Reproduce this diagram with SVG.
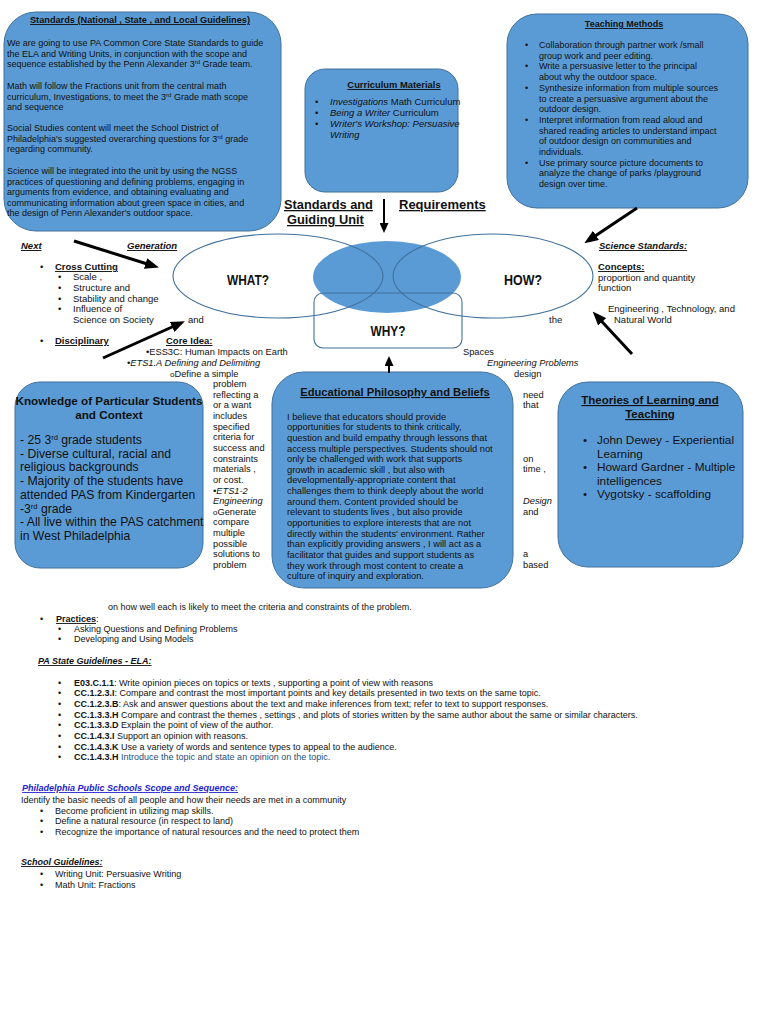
<svg xmlns="http://www.w3.org/2000/svg" width="768" height="1024" viewBox="0 0 768 1024">
<defs>
<style>
text{font-family:"Liberation Sans",Arial,sans-serif;fill:#111;font-size:9px}
.box{fill:#5b9bd5;stroke:#41719c;stroke-width:1}
.ring{fill:none;stroke:#41719c;stroke-width:1.1}
.b{font-weight:bold}
.i{font-style:italic}
.u{text-decoration:underline}
.m{text-anchor:middle}
.ln{stroke:#000;stroke-width:3;fill:none;marker-end:url(#ah)}
.lns{stroke:#000;stroke-width:2;fill:none;marker-end:url(#ahs)}
.s95{font-size:9.5px}
.s93{font-size:9.3px}
.blue{fill:#1f4e79}
.link{fill:#2323d0}
.ring-b{font-size:8px;font-style:normal}
</style>
<marker id="ah" markerUnits="userSpaceOnUse" markerWidth="14" markerHeight="11" refX="6" refY="5.5" orient="auto"><path d="M0,0 L14,5.5 L0,11 z" fill="#000"/></marker>
<marker id="ahs" markerUnits="userSpaceOnUse" markerWidth="10" markerHeight="9" refX="4.5" refY="4.5" orient="auto"><path d="M0,0 L10,4.5 L0,9 z" fill="#000"/></marker>
</defs>
<rect width="768" height="1024" fill="#fff"/>

<g id="standards">
<rect class="box" x="4" y="12" width="277" height="219" rx="32"/>
<text x="140" y="23" class="b u m" style="font-size:9.2px">Standards (National , State , and Local Guidelines)</text>
<text x="7" y="46">We are going to use PA Common Core State Standards to guide</text>
<text x="7" y="56.6">the ELA and Writing Units, in conjunction with the scope and</text>
<text x="7" y="67.2">sequence established by the Penn Alexander 3<tspan dy="-3" style="font-size:6px">rd</tspan><tspan dy="3"> Grade team.</tspan></text>
<text x="7" y="89">Math will follow the Fractions unit from the central math</text>
<text x="7" y="99.6">curriculum, Investigations, to meet the 3<tspan dy="-3" style="font-size:6px">rd</tspan><tspan dy="3"> Grade math scope</tspan></text>
<text x="7" y="110.2">and sequence</text>
<text x="7" y="131">Social Studies content will meet the School District of</text>
<text x="7" y="141.6">Philadelphia's suggested overarching questions for 3<tspan dy="-3" style="font-size:6px">rd</tspan><tspan dy="3"> grade</tspan></text>
<text x="7" y="152.2">regarding community.</text>
<text x="7" y="174">Science will be integrated into the unit by using the NGSS</text>
<text x="7" y="184.6">practices of questioning and defining problems, engaging in</text>
<text x="7" y="195.2">arguments from evidence, and obtaining evaluating and</text>
<text x="7" y="205.8">communicating information about green space in cities, and</text>
<text x="7" y="216.4">the design of Penn Alexander's outdoor space.</text>
</g>

<g id="curriculum">
<rect class="box" x="305" y="69" width="153" height="123" rx="20"/>
<text x="394" y="88" class="b u m" style="font-size:9.4px">Curriculum Materials</text>
<text x="315" y="105" class="s95">•</text><text x="330" y="105" class="s95"><tspan class="i">Investigations</tspan> Math Curriculum</text>
<text x="315" y="116" class="s95">•</text><text x="330" y="116" class="s95 i">Being a Writer <tspan style="font-style:normal">Curriculum</tspan></text>
<text x="315" y="127" class="s95">•</text><text x="330" y="127" class="s95 i">Writer's Workshop: Persuasive</text>
<text x="330" y="138" class="s95 i">Writing</text>
</g>

<g id="teaching">
<rect class="box" x="507" y="14" width="241" height="194" rx="30"/>
<text x="624" y="27" class="b u m">Teaching Methods</text>
<text x="525" y="48">•</text><text x="539" y="48">Collaboration through partner work /small</text>
<text x="539" y="58.7">group work and peer editing.</text>
<text x="525" y="69.4">•</text><text x="539" y="69.4">Write a persuasive letter to the principal</text>
<text x="539" y="80.1">about why the outdoor space.</text>
<text x="525" y="90.8">•</text><text x="539" y="90.8">Synthesize information from multiple sources</text>
<text x="539" y="101.5">to create a persuasive argument about the</text>
<text x="539" y="112.2">outdoor design.</text>
<text x="525" y="122.9">•</text><text x="539" y="122.9">Interpret information from read aloud and</text>
<text x="539" y="133.6">shared reading articles to understand impact</text>
<text x="539" y="144.3">of outdoor design on communities and</text>
<text x="539" y="155">individuals.</text>
<text x="525" y="165.7">•</text><text x="539" y="165.7">Use primary source picture documents to</text>
<text x="539" y="176.4">analyze the change of parks /playground</text>
<text x="539" y="187.1">design over time.</text>
</g>

<g id="center-title">
<text x="284" y="209" class="b u" style="font-size:12.8px">Standards and</text>
<text x="287" y="224" class="b u" style="font-size:12.8px">Guiding Unit</text>
<text x="399" y="209" class="b u" style="font-size:13px">Requirements</text>
</g>

<g id="venn">
<ellipse cx="387" cy="277" rx="74" ry="36" fill="#5b9bd5"/>
<ellipse class="ring" cx="278" cy="276" rx="105" ry="42"/>
<ellipse class="ring" cx="493" cy="276" rx="100" ry="42"/>
<rect class="ring" x="314" y="293" width="148" height="55" rx="9"/>
<text x="248" y="285" class="b m" style="font-size:14px" textLength="42" lengthAdjust="spacingAndGlyphs">WHAT?</text>
<text x="523" y="285" class="b m" style="font-size:14px" textLength="38" lengthAdjust="spacingAndGlyphs">HOW?</text>
<text x="388" y="336" class="b m" style="font-size:14px" textLength="35" lengthAdjust="spacingAndGlyphs">WHY?</text>
</g>

<g id="science-left">
<text x="21" y="249" class="b i u s95">Next</text>
<text x="127" y="249" class="b i u s95">Generation</text>
<text x="40" y="270" class="s95">•</text><text x="55" y="270" class="b u s95">Cross Cutting</text>
<text x="58" y="280" class="s95">•</text><text x="73" y="280" class="s95">Scale ,</text>
<text x="58" y="291" class="s95">•</text><text x="73" y="291" class="s95">Structure and</text>
<text x="58" y="302" class="s95">•</text><text x="73" y="302" class="s95">Stability and change</text>
<text x="58" y="312" class="s95">•</text><text x="73" y="312" class="s95">Influence of</text>
<text x="73" y="323" class="s95">Science on Society</text>
<text x="188" y="323" class="s95">and</text>
<text x="40" y="344" class="s95">•</text><text x="55" y="344" class="b u s95">Disciplinary</text>
<text x="166" y="344" class="b u s95">Core Idea:</text>
<text x="146" y="355" class="s93">•ESS3C: Human Impacts on Earth</text>
<text x="127" y="366" class="s93 i">•ETS1.A Defining and Delimiting</text>
<text x="170" y="377" class="s93"><tspan class="ring-b">o</tspan>Define a simple</text>
<text x="213" y="387" class="s93">problem</text>
<text x="213" y="397.6" class="s93">reflecting a</text>
<text x="213" y="408.3" class="s93">or a want</text>
<text x="213" y="418.9" class="s93">includes</text>
<text x="213" y="429.6" class="s93">specified</text>
<text x="213" y="440.2" class="s93">criteria for</text>
<text x="213" y="450.9" class="s93">success and</text>
<text x="213" y="461.5" class="s93">constraints</text>
<text x="213" y="472.2" class="s93">materials ,</text>
<text x="213" y="482.8" class="s93">or cost.</text>
<text x="213" y="493.5" class="s93 i">•ETS1-2</text>
<text x="213" y="504.1" class="s93 i">Engineering</text>
<text x="213" y="514.8" class="s93"><tspan class="ring-b">o</tspan>Generate</text>
<text x="213" y="525.4" class="s93">compare</text>
<text x="213" y="536.1" class="s93">multiple</text>
<text x="213" y="546.7" class="s93">possible</text>
<text x="213" y="557.4" class="s93">solutions to</text>
<text x="213" y="568" class="s93">problem</text>
</g>

<g id="science-right">
<text x="599" y="249" class="b i u s95">Science Standards:</text>
<text x="598" y="270" class="b u s95">Concepts:</text>
<text x="598" y="281" class="s95">proportion and quantity</text>
<text x="598" y="291" class="s95">function</text>
<text x="608" y="312" class="s95">Engineering , Technology, and</text>
<text x="614" y="323" class="s95">Natural World</text>
<text x="549" y="323" class="s95">the</text>
<text x="463" y="355" class="s93">Spaces</text>
<text x="487" y="366" class="s93 i">Engineering Problems</text>
<text x="514" y="377" class="s93">design</text>
<text x="523" y="397.6" class="s93">need</text>
<text x="523" y="408.3" class="s93">that</text>
<text x="523" y="461.5" class="s93">on</text>
<text x="523" y="472.2" class="s93">time ,</text>
<text x="523" y="504.1" class="s93 i">Design</text>
<text x="523" y="514.8" class="s93">and</text>
<text x="523" y="557.4" class="s93">a</text>
<text x="523" y="568" class="s93">based</text>
</g>

<g id="knowledge">
<rect class="box" x="15" y="382" width="188" height="186" rx="25"/>
<text x="109" y="405" class="b m" style="font-size:11.7px">Knowledge of Particular Students</text>
<text x="109" y="419" class="b m" style="font-size:11.7px">and Context</text>
<text x="20" y="444" style="font-size:12.2px">- 25 3<tspan dy="-4" style="font-size:7.5px">rd</tspan><tspan dy="4"> grade students</tspan></text>
<text x="20" y="457.7" style="font-size:12.2px">- Diverse cultural, racial and</text>
<text x="20" y="471.4" style="font-size:12.2px">religious backgrounds</text>
<text x="20" y="485.1" style="font-size:12.2px">- Majority of the students have</text>
<text x="20" y="498.8" style="font-size:12.2px">attended PAS from Kindergarten</text>
<text x="20" y="512.5" style="font-size:12.2px">-3<tspan dy="-4" style="font-size:7.5px">rd</tspan><tspan dy="4"> grade</tspan></text>
<text x="20" y="526.2" style="font-size:12.2px">- All live within the PAS catchment</text>
<text x="20" y="539.9" style="font-size:12.2px">in West Philadelphia</text>
</g>

<g id="philosophy">
<rect class="box" x="272" y="372" width="241" height="216" rx="32"/>
<text x="395" y="396" class="b u m" style="font-size:11.2px">Educational Philosophy and Beliefs</text>
<text x="287" y="419.5" class="s93">I believe that educators should provide</text>
<text x="287" y="430.2" class="s93">opportunities for students to think critically,</text>
<text x="287" y="440.8" class="s93">question and build empathy through lessons that</text>
<text x="287" y="451.5" class="s93">access multiple perspectives. Students should not</text>
<text x="287" y="462.1" class="s93">only be challenged with work that supports</text>
<text x="287" y="472.8" class="s93">growth in academic skill , but also with</text>
<text x="287" y="483.4" class="s93">developmentally-appropriate content that</text>
<text x="287" y="494.1" class="s93">challenges them to think deeply about the world</text>
<text x="287" y="504.7" class="s93">around them. Content provided should be</text>
<text x="287" y="515.4" class="s93">relevant to students lives , but also provide</text>
<text x="287" y="526" class="s93">opportunities to explore interests that are not</text>
<text x="287" y="536.7" class="s93">directly within the students' environment. Rather</text>
<text x="287" y="547.3" class="s93">than explicitly providing answers , I will act as a</text>
<text x="287" y="558" class="s93">facilitator that guides and support students as</text>
<text x="287" y="568.6" class="s93">they work through most content to create a</text>
<text x="287" y="579.3" class="s93">culture of inquiry and exploration.</text>
</g>

<g id="theories">
<rect class="box" x="558" y="382" width="185" height="185" rx="30"/>
<text x="650" y="404" class="b u m" style="font-size:11.5px">Theories of Learning and</text>
<text x="650" y="418" class="b u m" style="font-size:11.5px">Teaching</text>
<text x="583" y="444" style="font-size:11.8px">•</text><text x="597" y="444" style="font-size:11.8px">John Dewey - Experiential</text>
<text x="597" y="458" style="font-size:11.8px">Learning</text>
<text x="583" y="471" style="font-size:11.8px">•</text><text x="597" y="471" style="font-size:11.8px">Howard Gardner - Multiple</text>
<text x="597" y="485" style="font-size:11.8px">intelligences</text>
<text x="583" y="498" style="font-size:11.8px">•</text><text x="597" y="498" style="font-size:11.8px">Vygotsky - scaffolding</text>
</g>

<g id="connectors">
<line class="ln" x1="74" y1="241" x2="151.3" y2="265.2"/>
<line class="ln" x1="103" y1="358" x2="177.6" y2="324.5"/>
<line class="ln" x1="637" y1="208" x2="591" y2="238.7"/>
<line class="ln" x1="632" y1="354" x2="598.1" y2="317.4"/>
<line class="lns" x1="384" y1="199" x2="384" y2="227.5"/>
<line class="lns" x1="389" y1="373" x2="389" y2="361.5"/>
</g>

<g id="lower-text">
<text x="108" y="610">on how well each is likely to meet the criteria and constraints of the problem.</text>
<text x="40" y="622">•</text><text x="56" y="622"><tspan class="b u">Practices</tspan>:</text>
<text x="58" y="632">•</text><text x="74" y="632">Asking Questions and Defining Problems</text>
<text x="58" y="642">•</text><text x="74" y="642">Developing and Using Models</text>
<text x="38" y="664" class="b i u">PA State Guidelines - ELA:</text>
<text x="58" y="685.5">•</text><text x="74" y="685.5"><tspan class="b">E03.C.1.1</tspan>: Write opinion pieces on topics or texts , supporting a point of view with reasons</text>
<text x="58" y="696">•</text><text x="74" y="696"><tspan class="b">CC.1.2.3.I</tspan>: Compare and contrast the most important points and key details presented in two texts on the same topic.</text>
<text x="58" y="707">•</text><text x="74" y="707"><tspan class="b">CC.1.2.3.B</tspan>: Ask and answer questions about the text and make inferences from text; refer to text to support responses.</text>
<text x="58" y="717.5">•</text><text x="74" y="717.5"><tspan class="b">CC.1.3.3.H</tspan> Compare and contrast the themes , settings , and plots of stories written by the same author about the same or similar characters.</text>
<text x="58" y="728">•</text><text x="74" y="728"><tspan class="b">CC.1.3.3.D</tspan> Explain the point of view of the author.</text>
<text x="58" y="739">•</text><text x="74" y="739"><tspan class="b">CC.1.4.3.I</tspan> Support an opinion with reasons.</text>
<text x="58" y="749.5">•</text><text x="74" y="749.5"><tspan class="b">CC.1.4.3.K</tspan> Use a variety of words and sentence types to appeal to the audience.</text>
<text x="58" y="760">•</text><text x="74" y="760"><tspan class="b">CC.1.4.3.H</tspan> <tspan class="blue">Introduce the topic and state an opinion on the topic.</tspan></text>
<text x="22" y="791" class="b i u link">Philadelphia Public Schools Scope and Sequence:</text>
<text x="21" y="803">Identify the basic needs of all people and how their needs are met in a community</text>
<text x="40" y="813.5">•</text><text x="55" y="813.5">Become proficient in utilizing map skills.</text>
<text x="40" y="824">•</text><text x="55" y="824">Define a natural resource (in respect to land)</text>
<text x="40" y="834.5">•</text><text x="55" y="834.5">Recognize the importance of natural resources and the need to protect them</text>
<text x="21" y="865" class="b i u">School Guidelines:</text>
<text x="40" y="877">•</text><text x="55" y="877">Writing Unit: Persuasive Writing</text>
<text x="40" y="888">•</text><text x="55" y="888">Math Unit: Fractions</text>
</g>
</svg>
